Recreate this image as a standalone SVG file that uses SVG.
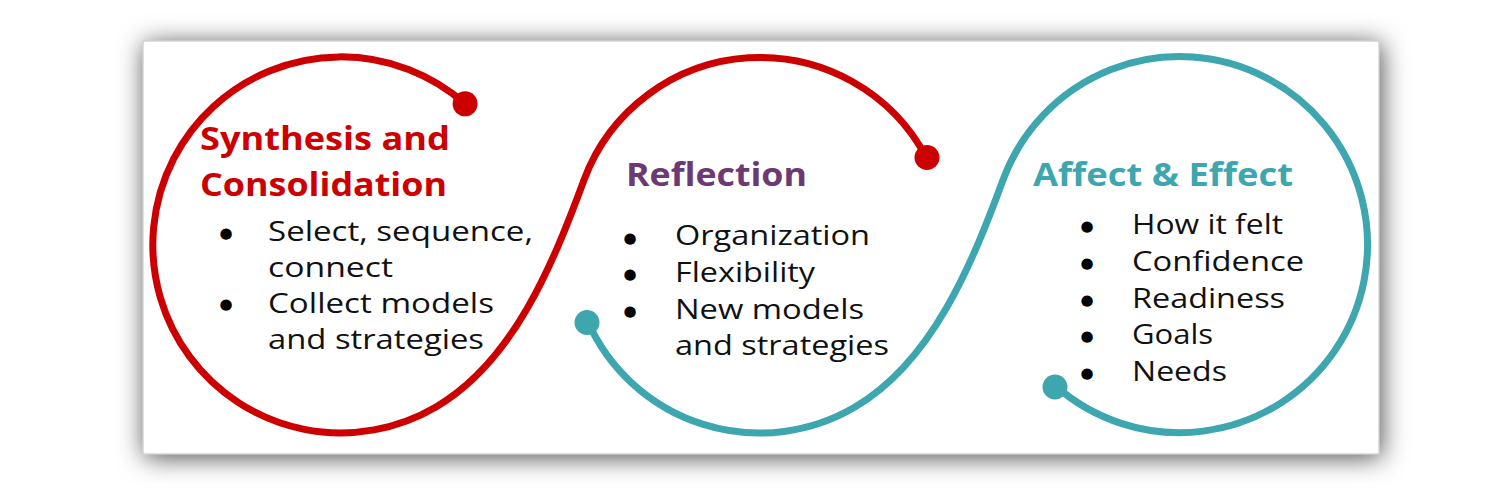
<svg xmlns="http://www.w3.org/2000/svg" width="1486" height="496" viewBox="0 0 1486 496">
<style>
.title{font-family:"Open Sans","Liberation Sans",sans-serif;font-weight:700;font-size:32px}
.body{font-family:"Open Sans","Liberation Sans",sans-serif;font-size:28px;fill:#111}
.blt{font-family:"DejaVu Sans",sans-serif;font-size:15px;fill:#000}
.red{stroke:#cc0000;fill:none;stroke-width:7}
.teal{stroke:#3ea6ae;fill:none;stroke-width:7}
</style>
<defs>
<filter id="shadow" x="-10%" y="-25%" width="120%" height="150%">
<feDropShadow dx="2" dy="3" stdDeviation="13" flood-color="#000" flood-opacity="0.7"/>
</filter>
</defs>
<rect x="0" y="0" width="1486" height="496" fill="#fff"/>
<rect id="card" x="143" y="41" width="1236" height="413" fill="#fff" stroke="#c0c0c0" stroke-width="1" filter="url(#shadow)"/>
<g id="connectors">
<path class="red" d="M465.1,103.8 A188,188 0 1 0 436,407 C513.6,361.5 552.9,264.2 584,180 A188,188 0 0 1 926.6,157.9"/>
<circle cx="465.1" cy="103.8" r="12.5" fill="#cc0000"/>
<circle cx="927" cy="157.5" r="12.5" fill="#cc0000"/>
<path class="teal" d="M588,322 A188,188 0 0 0 855,407 C932.6,361.5 971.9,264.2 1003,180 A188,188 0 1 1 1055.6,386"/>
<circle cx="587" cy="322.5" r="12.5" fill="#3ea6ae"/>
<circle cx="1055" cy="387" r="12.5" fill="#3ea6ae"/>
</g>
<g id="synthesis">
<text class="title" fill="#cc0000" x="200" y="150" textLength="250" lengthAdjust="spacingAndGlyphs">Synthesis and</text>
<text class="title" fill="#cc0000" x="200" y="196" textLength="247" lengthAdjust="spacingAndGlyphs">Consolidation</text>
<text class="blt" x="226" y="238" text-anchor="middle">●</text>
<text class="body" x="268" y="241" textLength="265" lengthAdjust="spacingAndGlyphs">Select, sequence,</text>
<text class="body" x="268" y="277" textLength="125" lengthAdjust="spacingAndGlyphs">connect</text>
<text class="blt" x="226" y="309" text-anchor="middle">●</text>
<text class="body" x="268" y="313" textLength="226" lengthAdjust="spacingAndGlyphs">Collect models</text>
<text class="body" x="268" y="349" textLength="216" lengthAdjust="spacingAndGlyphs">and strategies</text>
</g>
<g id="reflection">
<text class="title" fill="#6b3a73" x="626" y="186" textLength="181" lengthAdjust="spacingAndGlyphs">Reflection</text>
<text class="blt" x="630" y="243" text-anchor="middle">●</text>
<text class="body" x="675" y="245" textLength="195" lengthAdjust="spacingAndGlyphs">Organization</text>
<text class="blt" x="630" y="279" text-anchor="middle">●</text>
<text class="body" x="675" y="282" textLength="140" lengthAdjust="spacingAndGlyphs">Flexibility</text>
<text class="blt" x="630" y="316" text-anchor="middle">●</text>
<text class="body" x="675" y="319" textLength="189" lengthAdjust="spacingAndGlyphs">New models</text>
<text class="body" x="675" y="355" textLength="214" lengthAdjust="spacingAndGlyphs">and strategies</text>
</g>
<g id="affect">
<text class="title" fill="#3ea6ae" x="1033" y="186" textLength="260" lengthAdjust="spacingAndGlyphs">Affect &amp; Effect</text>
<text class="blt" x="1087" y="231" text-anchor="middle">●</text>
<text class="body" x="1132" y="234" textLength="151" lengthAdjust="spacingAndGlyphs">How it felt</text>
<text class="blt" x="1087" y="268" text-anchor="middle">●</text>
<text class="body" x="1132" y="271" textLength="172" lengthAdjust="spacingAndGlyphs">Confidence</text>
<text class="blt" x="1087" y="305" text-anchor="middle">●</text>
<text class="body" x="1132" y="308" textLength="153" lengthAdjust="spacingAndGlyphs">Readiness</text>
<text class="blt" x="1087" y="341" text-anchor="middle">●</text>
<text class="body" x="1132" y="344" textLength="81" lengthAdjust="spacingAndGlyphs">Goals</text>
<text class="blt" x="1087" y="378" text-anchor="middle">●</text>
<text class="body" x="1132" y="381" textLength="95" lengthAdjust="spacingAndGlyphs">Needs</text>
</g>
</svg>
